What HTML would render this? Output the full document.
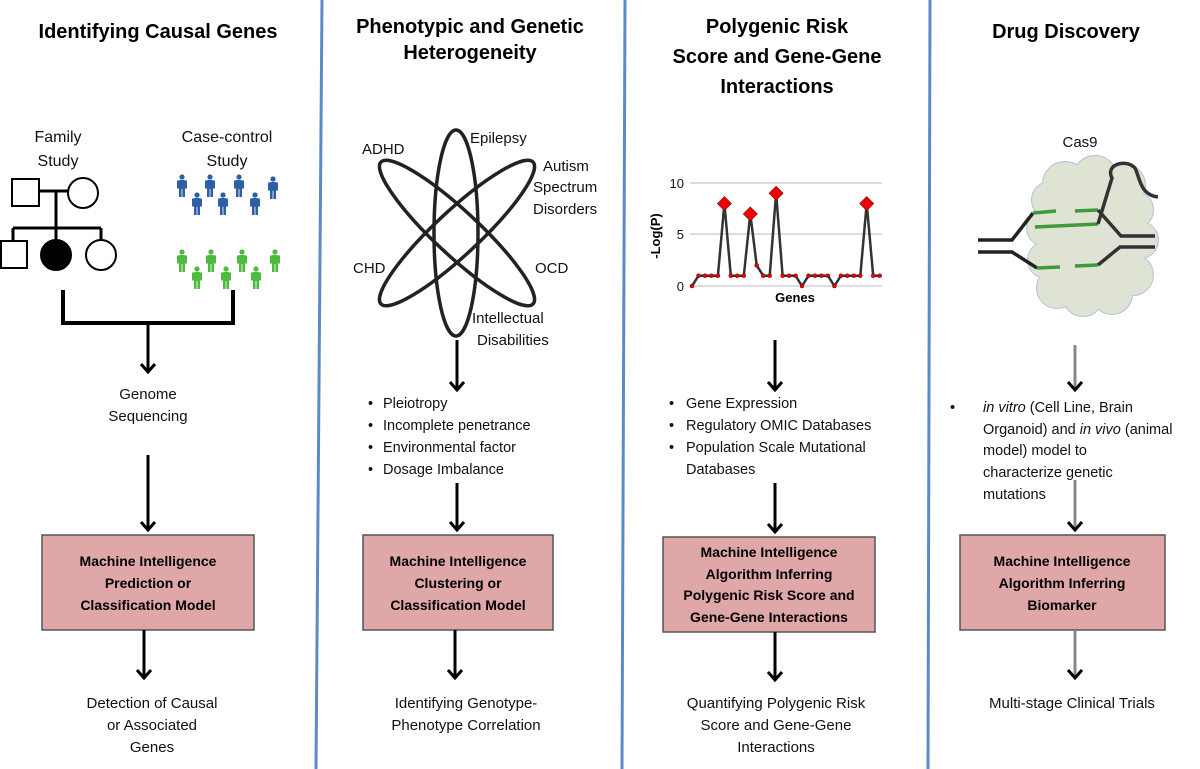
<!DOCTYPE html>
<html><head><meta charset="utf-8"><style>
html,body{margin:0;padding:0;background:#fff;}
svg{display:block;font-family:"Liberation Sans",sans-serif;}
.t{font-weight:bold;font-size:20px;text-anchor:middle;fill:#000}
.b{font-weight:bold;font-size:14px;text-anchor:middle;fill:#000}
.n{font-size:15px;text-anchor:middle;fill:#111}
.s{font-size:14px;fill:#111}
.ar{stroke:#000;stroke-width:3;fill:none}
.ag{stroke:#888;stroke-width:3;fill:none}
</style></head><body>
<svg width="1200" height="769" viewBox="0 0 1200 769" xmlns="http://www.w3.org/2000/svg">
<defs>
<g id="p"><circle cx="0" cy="-10" r="2.6"/><rect x="-3.5" y="-7" width="7" height="9" rx="1.5"/><rect x="-5" y="-6.5" width="2" height="8"/><rect x="3" y="-6.5" width="2" height="8"/><rect x="-3" y="1" width="2.6" height="9"/><rect x="0.4" y="1" width="2.6" height="9"/></g>
<g id="cl">
<circle cx="1065" cy="184" r="22"/><circle cx="1095" cy="178" r="22"/><circle cx="1125" cy="185" r="20"/><circle cx="1135" cy="210" r="18"/><circle cx="1140" cy="240" r="18"/><circle cx="1133" cy="275" r="20"/><circle cx="1112" cy="294" r="20"/><circle cx="1083" cy="296" r="20"/><circle cx="1057" cy="288" r="20"/><circle cx="1046" cy="260" r="18"/><circle cx="1045" cy="228" r="18"/><circle cx="1050" cy="200" r="18"/>
</g>
</defs>
<line x1="322" y1="0" x2="316" y2="769" stroke="#5b8ac6" stroke-width="3"/>
<line x1="625" y1="0" x2="622" y2="769" stroke="#5b8ac6" stroke-width="3"/>
<line x1="930" y1="0" x2="928" y2="769" stroke="#5b8ac6" stroke-width="3"/>

<text class="t" x="158" y="38">Identifying Causal Genes</text>
<text class="t" x="470" y="33">Phenotypic and Genetic</text>
<text class="t" x="470" y="59">Heterogeneity</text>
<text class="t" x="777" y="33">Polygenic Risk</text>
<text class="t" x="777" y="63">Score and Gene-Gene</text>
<text class="t" x="777" y="93">Interactions</text>
<text class="t" x="1066" y="38">Drug Discovery</text>

<text class="n" x="58" y="142" style="font-size:16px">Family</text>
<text class="n" x="58" y="166" style="font-size:16px">Study</text>
<text class="n" x="227" y="142" style="font-size:16px">Case-control</text>
<text class="n" x="227" y="166" style="font-size:16px">Study</text>
<g stroke="#000" stroke-width="2" fill="#fff">
<rect x="12" y="179" width="27" height="27"/>
<circle cx="83" cy="193" r="15"/>
<line x1="39" y1="191" x2="68" y2="191" stroke-width="3"/>
<line x1="56" y1="191" x2="56" y2="228" stroke-width="3"/>
<line x1="13" y1="228" x2="101" y2="228" stroke-width="3"/>
<line x1="13" y1="228" x2="13" y2="240" stroke-width="3"/>
<line x1="56" y1="228" x2="56" y2="240" stroke-width="3"/>
<line x1="101" y1="228" x2="101" y2="240" stroke-width="3"/>
<rect x="1" y="241" width="26" height="27"/>
<circle cx="56" cy="255" r="15" fill="#000"/>
<circle cx="101" cy="255" r="15"/>
</g>
<g fill="#2c5fa3">
<use href="#p" x="182" y="187"/><use href="#p" x="197" y="205"/><use href="#p" x="210" y="187"/><use href="#p" x="223" y="205"/><use href="#p" x="239" y="187"/><use href="#p" x="255" y="205"/><use href="#p" x="273" y="189"/>
</g>
<g fill="#4cbb3e">
<use href="#p" x="182" y="262"/><use href="#p" x="197" y="279"/><use href="#p" x="211" y="262"/><use href="#p" x="226" y="279"/><use href="#p" x="242" y="262"/><use href="#p" x="256" y="279"/><use href="#p" x="275" y="262"/>
</g>
<path d="M63 290 V323 H233 V290" stroke="#000" stroke-width="4" fill="none"/>
<line x1="148" y1="323" x2="148" y2="372" class="ar"/><polyline points="141,364 148,372 155,364" class="ar"/>
<text class="n" x="148" y="399">Genome</text>
<text class="n" x="148" y="421">Sequencing</text>
<line x1="148" y1="455" x2="148" y2="530" class="ar"/><polyline points="141,522 148,530 155,522" class="ar"/>
<rect x="42" y="535" width="212" height="95" fill="#dfa7a7" stroke="#555" stroke-width="1.5"/>
<text class="b" x="148" y="566">Machine Intelligence</text>
<text class="b" x="148" y="588">Prediction or</text>
<text class="b" x="148" y="610">Classification Model</text>
<line x1="144" y1="630" x2="144" y2="678" class="ar"/><polyline points="137,670 144,678 151,670" class="ar"/>
<text class="n" x="152" y="708">Detection of Causal</text>
<text class="n" x="152" y="730">or Associated</text>
<text class="n" x="152" y="752">Genes</text>

<g stroke="#222" stroke-width="3.5" fill="none">
<ellipse cx="456" cy="233" rx="22" ry="103"/>
<ellipse cx="457" cy="233" rx="22" ry="104" transform="rotate(-47 457 233)"/>
<ellipse cx="457" cy="233" rx="22" ry="104" transform="rotate(47 457 233)"/>
</g>
<g class="s" style="font-size:15px">
<text x="362" y="154">ADHD</text>
<text x="470" y="143">Epilepsy</text>
<text x="543" y="171">Autism</text>
<text x="533" y="192">Spectrum</text>
<text x="533" y="214">Disorders</text>
<text x="353" y="273">CHD</text>
<text x="535" y="273">OCD</text>
<text x="472" y="323">Intellectual</text>
<text x="477" y="345">Disabilities</text>
</g>
<line x1="457" y1="340" x2="457" y2="390" class="ar"/><polyline points="450,382 457,390 464,382" class="ar"/>
<g class="s" style="font-size:14.5px">
<text x="368" y="408">•</text><text x="383" y="408">Pleiotropy</text>
<text x="368" y="430">•</text><text x="383" y="430">Incomplete penetrance</text>
<text x="368" y="452">•</text><text x="383" y="452">Environmental factor</text>
<text x="368" y="474">•</text><text x="383" y="474">Dosage Imbalance</text>
</g>
<line x1="457" y1="483" x2="457" y2="530" class="ar"/><polyline points="450,522 457,530 464,522" class="ar"/>
<rect x="363" y="535" width="190" height="95" fill="#dfa7a7" stroke="#555" stroke-width="1.5"/>
<text class="b" x="458" y="566">Machine Intelligence</text>
<text class="b" x="458" y="588">Clustering or</text>
<text class="b" x="458" y="610">Classification Model</text>
<line x1="455" y1="630" x2="455" y2="678" class="ar"/><polyline points="448,670 455,678 462,670" class="ar"/>
<text class="n" x="466" y="708">Identifying Genotype-</text>
<text class="n" x="466" y="730">Phenotype Correlation</text>

<g stroke="#bbb" stroke-width="1">
<line x1="690" y1="183" x2="882" y2="183"/><line x1="690" y1="234" x2="882" y2="234"/><line x1="690" y1="286" x2="882" y2="286"/>
</g>
<g font-size="13" fill="#111" text-anchor="end"><text x="684" y="188">10</text><text x="684" y="239">5</text><text x="684" y="291">0</text></g>
<text x="660" y="236" font-size="13" font-weight="bold" text-anchor="middle" transform="rotate(-90 660 236)">-Log(P)</text>
<text x="795" y="302" font-size="13" font-weight="bold" text-anchor="middle">Genes</text>
<polyline fill="none" stroke="#333" stroke-width="2.5" points="692,286 698.5,275.7 705,275.7 711.4,275.7 717.9,275.7 724.4,203.6 730.8,275.7 737.3,275.7 743.8,275.7 750.3,213.9 756.7,265.4 763.2,275.7 769.7,275.7 776.1,193.3 782.6,275.7 789.1,275.7 795.6,275.7 802,286 808.5,275.7 815,275.7 821.4,275.7 827.9,275.7 834.4,286 840.9,275.7 847.3,275.7 853.8,275.7 860.3,275.7 866.7,203.6 873.2,275.7 879.7,275.7"/>
<g fill="#e00" stroke="#600" stroke-width="0.5">
<circle cx="692" cy="286" r="2"/><circle cx="698.5" cy="275.7" r="2"/><circle cx="705" cy="275.7" r="2"/><circle cx="711.4" cy="275.7" r="2"/><circle cx="717.9" cy="275.7" r="2"/><circle cx="730.8" cy="275.7" r="2"/><circle cx="737.3" cy="275.7" r="2"/><circle cx="743.8" cy="275.7" r="2"/><circle cx="756.7" cy="265.4" r="2"/><circle cx="763.2" cy="275.7" r="2"/><circle cx="769.7" cy="275.7" r="2"/><circle cx="782.6" cy="275.7" r="2"/><circle cx="789.1" cy="275.7" r="2"/><circle cx="795.6" cy="275.7" r="2"/><circle cx="802" cy="286" r="2"/><circle cx="808.5" cy="275.7" r="2"/><circle cx="815" cy="275.7" r="2"/><circle cx="821.4" cy="275.7" r="2"/><circle cx="827.9" cy="275.7" r="2"/><circle cx="834.4" cy="286" r="2"/><circle cx="840.9" cy="275.7" r="2"/><circle cx="847.3" cy="275.7" r="2"/><circle cx="853.8" cy="275.7" r="2"/><circle cx="860.3" cy="275.7" r="2"/><circle cx="873.2" cy="275.7" r="2"/><circle cx="879.7" cy="275.7" r="2"/>
<rect x="719.4" y="198.6" width="10" height="10" transform="rotate(45 724.4 203.6)"/>
<rect x="745.3" y="208.9" width="10" height="10" transform="rotate(45 750.3 213.9)"/>
<rect x="771.1" y="188.3" width="10" height="10" transform="rotate(45 776.1 193.3)"/>
<rect x="861.7" y="198.6" width="10" height="10" transform="rotate(45 866.7 203.6)"/>
</g>
<line x1="775" y1="340" x2="775" y2="390" class="ar"/><polyline points="768,382 775,390 782,382" class="ar"/>
<g class="s" style="font-size:14.5px">
<text x="669" y="408">•</text><text x="686" y="408">Gene Expression</text>
<text x="669" y="430">•</text><text x="686" y="430">Regulatory OMIC Databases</text>
<text x="669" y="452">•</text><text x="686" y="452">Population Scale Mutational</text>
<text x="686" y="474">Databases</text>
</g>
<line x1="775" y1="483" x2="775" y2="532" class="ar"/><polyline points="768,524 775,532 782,524" class="ar"/>
<rect x="663" y="537" width="212" height="95" fill="#dfa7a7" stroke="#555" stroke-width="1.5"/>
<text class="b" x="769" y="557">Machine Intelligence</text>
<text class="b" x="769" y="579">Algorithm Inferring</text>
<text class="b" x="769" y="600">Polygenic Risk Score and</text>
<text class="b" x="769" y="622">Gene-Gene Interactions</text>
<line x1="775" y1="632" x2="775" y2="680" class="ar"/><polyline points="768,672 775,680 782,672" class="ar"/>
<text class="n" x="776" y="708">Quantifying Polygenic Risk</text>
<text class="n" x="776" y="730">Score and Gene-Gene</text>
<text class="n" x="776" y="752">Interactions</text>

<text class="n" x="1080" y="147" style="font-size:15px">Cas9</text>
<use href="#cl" fill="#dfe3d4" stroke="#b4c3d6" stroke-width="2"/>
<use href="#cl" fill="#dfe3d4" stroke="none"/>
<rect x="1050" y="190" width="85" height="95" fill="#dfe3d4"/>
<g fill="none" stroke-width="3.5" stroke-linecap="butt">
<polyline points="978,240 1012,240 1033,213" stroke="#222"/>
<polyline points="978,252 1012,252 1037,268" stroke="#222"/>
<line x1="1033" y1="213" x2="1056" y2="211" stroke="#3e9a3a"/>
<line x1="1075" y1="211" x2="1098" y2="210" stroke="#3e9a3a"/>
<line x1="1035" y1="227" x2="1098" y2="224" stroke="#3e9a3a"/>
<line x1="1037" y1="268" x2="1060" y2="267" stroke="#3e9a3a"/>
<line x1="1075" y1="266" x2="1098" y2="265" stroke="#3e9a3a"/>
<polyline points="1098,210 1121,236 1155,236" stroke="#333"/>
<polyline points="1098,265 1120,247 1155,247" stroke="#333"/>
<path d="M1098,224 L1112,178 C1105,165 1125,158 1135,168 C1140,178 1140,195 1158,197" stroke="#333"/>
</g>
<line x1="1075" y1="345" x2="1075" y2="390" class="ag"/><polyline points="1068,382 1075,390 1082,382" class="ar"/>
<line x1="1075" y1="480" x2="1075" y2="530" class="ag"/><polyline points="1068,522 1075,530 1082,522" class="ar"/>
<g class="s" style="font-size:14.5px">
<text x="950" y="412">•</text>
<text x="983" y="412"><tspan font-style="italic">in vitro</tspan> (Cell Line, Brain</text>
<text x="983" y="434">Organoid) and <tspan font-style="italic">in vivo</tspan> (animal</text>
<text x="983" y="455">model) model to</text>
<text x="983" y="477">characterize genetic</text>
<text x="983" y="499">mutations</text>
</g>
<rect x="960" y="535" width="205" height="95" fill="#dfa7a7" stroke="#555" stroke-width="1.5"/>
<text class="b" x="1062" y="566">Machine Intelligence</text>
<text class="b" x="1062" y="588">Algorithm Inferring</text>
<text class="b" x="1062" y="610">Biomarker</text>
<line x1="1075" y1="630" x2="1075" y2="678" class="ag"/><polyline points="1068,670 1075,678 1082,670" class="ar"/>
<text class="n" x="1072" y="708">Multi-stage Clinical Trials</text>
</svg>
</body></html>
